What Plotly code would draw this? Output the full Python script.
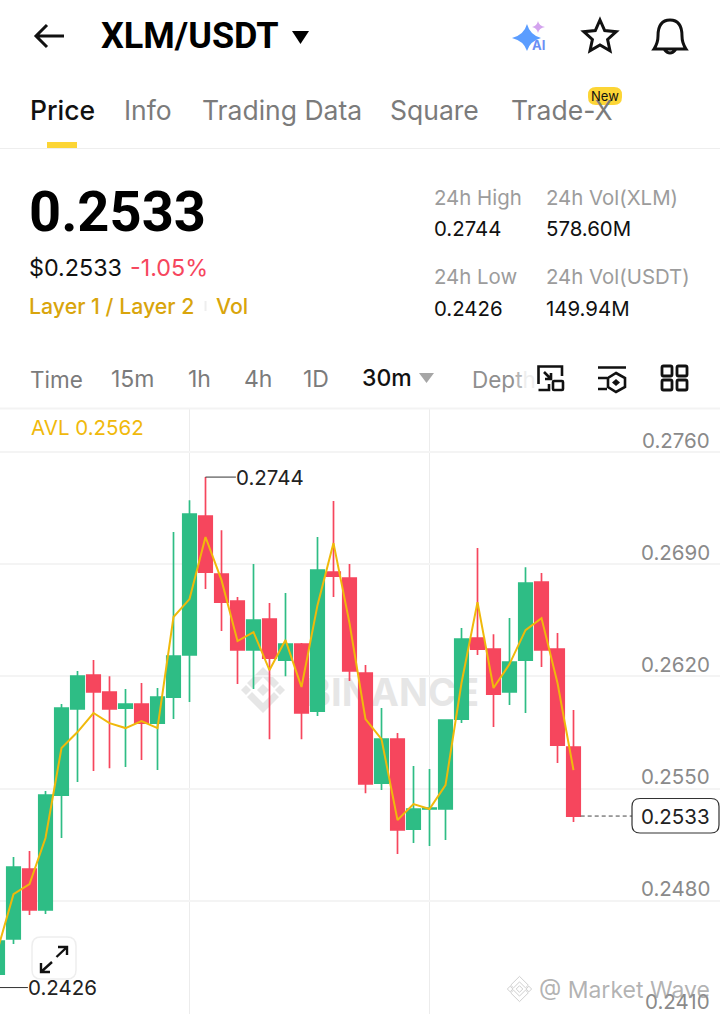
import re
import plotly.graph_objects as go

W, H = 720, 1014

# candles, oldest first, 30m
opens = [0.24343, 0.24562, 0.24998, 0.24743, 0.25460, 0.25997, 0.26209, 0.26103, 0.26003, 0.26028,
         0.25909, 0.26071, 0.26334, 0.27201, 0.26839, 0.26670, 0.26365, 0.26558, 0.26302, 0.26402,
         0.25984, 0.26851, 0.26814, 0.26221, 0.25535, 0.25809, 0.25248, 0.25373, 0.25373, 0.25934,
         0.26440, 0.26371, 0.26103, 0.26302, 0.26789, 0.26371, 0.25759]
highs = [0.24649, 0.25073, 0.25111, 0.25485, 0.26028, 0.26234, 0.26302, 0.26202, 0.26121, 0.26159,
         0.26128, 0.27101, 0.27300, 0.27444, 0.27113, 0.26695, 0.26901, 0.26658, 0.26720, 0.26408,
         0.27070, 0.27294, 0.26901, 0.26271, 0.26003, 0.25847, 0.25641, 0.25622, 0.25928, 0.26502,
         0.27001, 0.26464, 0.26564, 0.26882, 0.26845, 0.26471, 0.25990]
lows = [0.24259, 0.24530, 0.24711, 0.24718, 0.25192, 0.25541, 0.25610, 0.25628, 0.25635, 0.25678,
        0.25616, 0.25934, 0.26040, 0.26745, 0.26483, 0.26153, 0.26121, 0.25809, 0.26202, 0.25809,
        0.25953, 0.26695, 0.26171, 0.25472, 0.25491, 0.25092, 0.25161, 0.25142, 0.25179, 0.25909,
        0.26334, 0.25884, 0.26022, 0.25972, 0.26259, 0.25660, 0.25292]
closes = [0.24549, 0.25011, 0.24743, 0.25460, 0.26003, 0.26202, 0.26103, 0.25997, 0.26028, 0.25909,
          0.26071, 0.26327, 0.27213, 0.26851, 0.26664, 0.26365, 0.26552, 0.26315, 0.26402, 0.25972,
          0.26864, 0.26826, 0.26234, 0.25529, 0.25809, 0.25242, 0.25373, 0.25379, 0.25928, 0.26433,
          0.26371, 0.26090, 0.26290, 0.26783, 0.26365, 0.25772, 0.25329]
avl = [0.24493, 0.24842, 0.24905, 0.25192, 0.25753, 0.25853, 0.25972, 0.25909, 0.25878, 0.25922,
       0.25878, 0.26571, 0.26683, 0.27070, 0.26801, 0.26421, 0.26477, 0.26240, 0.26427, 0.26134,
       0.26645, 0.27032, 0.26533, 0.25934, 0.25809, 0.25304, 0.25404, 0.25373, 0.25522, 0.26159,
       0.26664, 0.26128, 0.26277, 0.26489, 0.26564, 0.26159, 0.25616]
price_ticks = [0.2760, 0.2690, 0.2620, 0.2550, 0.2480, 0.2410]
time_ticks = [12, 27]

GREEN = "#2EBD85"
RED = "#F6465D"
YELLOW = "#F0B90B"
GRAY = "#7b7b7b"
LIGHT = "#9c9c9c"
INK = "#111111"
FONT = "Inter"
NUM = "Inter"

idx = list(range(len(opens)))
hi_i = highs.index(max(highs))
lo_i = lows.index(min(lows))


def pth(s):
    # svg path written in page pixels -> paper coordinates
    nums = iter(re.findall(r"[A-Za-z]|-?[\d.]+", s))
    out, is_x = [], True
    for t in nums:
        if t.isalpha():
            out.append(t)
            is_x = True
        else:
            v = float(t)
            out.append(f"{v / W:.5f}" if is_x else f"{1 - v / H:.5f}")
            is_x = not is_x
    return " ".join(out)


shapes = []


def draw(s, color=None, fill=None, width=3, layer="above"):
    shapes.append(dict(type="path", path=pth(s), xref="paper", yref="paper", layer=layer,
                       line=dict(color=color or "rgba(0,0,0,0)", width=width if color else 0),
                       fillcolor=fill or "rgba(0,0,0,0)"))


def rrect(x0, y0, x1, y1, r):
    return (f"M {x0 + r} {y0} L {x1 - r} {y0} Q {x1} {y0} {x1} {y0 + r} L {x1} {y1 - r} "
            f"Q {x1} {y1} {x1 - r} {y1} L {x0 + r} {y1} Q {x0} {y1} {x0} {y1 - r} "
            f"L {x0} {y0 + r} Q {x0} {y0} {x0 + r} {y0} Z")


def logo(cx, cy, k, fill, line=None):
    # exchange diamond mark
    pieces = [
        [(0, -23), (16, -7), (11, -2), (0, -13), (-11, -2), (-16, -7)],
        [(0, 23), (16, 7), (11, 2), (0, 13), (-11, 2), (-16, 7)],
        [(0, -6), (6, 0), (0, 6), (-6, 0)],
        [(-17, -5), (-12, 0), (-17, 5), (-22, 0)],
        [(17, -5), (22, 0), (17, 5), (12, 0)],
    ]
    for p in pieces:
        s = " ".join(("M" if i == 0 else "L") + f" {cx + k * a:.1f} {cy + k * b:.1f}" for i, (a, b) in enumerate(p))
        draw(s + " Z", color=line, fill=fill, width=1, layer="below")


annotations = []


def text(x, y, s, size, color=INK, anchor="left", bold=False, family=FONT, weight=None):
    if anchor == "left":
        x -= 1.7  # annotation boxes sit a little to the right
    f = dict(family=family, size=size, color=color)
    if weight:
        f["weight"] = weight
    annotations.append(dict(x=x / W, y=1 - y / H, xref="paper", yref="paper", text=f"<b>{s}</b>" if bold else s,
                            showarrow=False, xanchor=anchor, yanchor="middle", borderpad=0, font=f))


# header
draw("M 36 36 L 64 36 M 47 25 L 36 36 L 47 47", color=INK)
text(102, 36, "XLM/USDT", 36, "#000000", bold=True, family="Roboto")
draw("M 292 31 L 309 31 L 300.5 44 Z", fill="#000000")
draw("M 527 24 Q 530 35 541 38 Q 530 41 527 51 Q 524 41 512 38 Q 524 35 527 24 Z", fill="#5B9DFF")
draw("M 538 21 Q 539 26 545 27 Q 539 28 538 33 Q 537 28 532 27 Q 537 26 538 21 Z", fill="#D3A3EE")
text(533, 45, "AI", 13, "#6C8EF5", bold=True)
draw("M 600 20 L 604.7 30.5 L 616.2 31.7 L 607.6 39.5 L 610 50.8 L 600 45 L 590 50.8 L 592.4 39.5 "
     "L 583.8 31.7 L 595.3 30.5 Z", color=INK)
draw("M 670 20 C 661 20 658 27 658 36 C 658 43 656 46 654 49 L 686 49 C 684 46 682 43 682 36 "
     "C 682 27 679 20 670 20 Z M 664 49 Q 670 57 676 49", color=INK)

# tabs
text(30.5, 110, "Price", 26.5, INK, weight=500)
text(125, 110, "Info", 26.5, GRAY)
text(203, 110, "Trading Data", 26.5, GRAY)
text(391, 110, "Square", 26.5, GRAY)
text(512, 110, "Trade-X", 26.5, GRAY)
draw(rrect(588, 87, 622, 105, 8), fill="#FCD535")
text(605, 96, "New", 13, INK, anchor="center")
draw("M 47 142 L 77 142 L 77 148 L 47 148 Z", fill="#FCD535")
draw("M 0 148.5 L 720 148.5", color="#eeeeee", width=1)

# price block
text(29.5, 212, "0.2533", 56, "#000000", bold=True, family="Roboto")
text(30, 267, "$0.2533", 23.3, INK)
text(131, 267, "-1.05%", 23.3, RED)
text(30, 306, "Layer 1 / Layer 2", 21.3, "#D9A50C", weight=500)
draw("M 205.5 301 L 205.5 311", color="#eeeeee", width=2)
text(217, 306, "Vol", 21.3, "#D9A50C", weight=500)
text(435, 197, "24h High", 20.4, LIGHT)
text(435, 229, "0.2744", 20.4, INK)
text(547, 197, "24h Vol(XLM)", 20.4, LIGHT)
text(547, 229, "578.60M", 20.4, INK)
text(435, 277, "24h Low", 20.4, LIGHT)
text(435, 308, "0.2426", 20.4, INK)
text(547, 277, "24h Vol(USDT)", 20.4, LIGHT)
text(547, 308, "149.94M", 20.4, INK)

# interval bar
text(31, 379, "Time", 22.5, GRAY)
text(112, 379, "15m", 23, GRAY)
text(189, 379, "1h", 23, GRAY)
text(245, 379, "4h", 23, GRAY)
text(304, 379, "1D", 23, GRAY)
text(363, 378, "30m", 23, INK, weight=500)
draw("M 419 373 L 434 373 L 426.5 383 Z", fill="#a6a6a6")
text(473, 379, 'Dep<span style="color:#b5b5b5">t</span><span style="color:#eeeeee">h</span>', 22.5, "#8f8f8f")
draw("M 538.5 384 L 538.5 366.5 L 562 366.5 L 562 376 M 538.5 390 L 549 390 L 549 384 M 544 372 L 551 379 "
     "M 551 373 L 551 379 L 545 379", color=INK, width=2.6)
draw(rrect(553, 381, 563, 390, 1), color=INK, width=2.6)
draw("M 598 367.5 L 626 367.5 M 598 378 L 607 378 M 598 389 L 607 389 "
     "M 616 373 L 625 378 L 625 387 L 616 392 L 608 387 L 608 378 Z", color=INK, width=2.6)
draw("M 616 379 L 620 382.5 L 616 386 L 612 382.5 Z", fill=INK)
draw(rrect(662, 366, 672, 376, 1.5), color=INK, width=2.8)
draw(rrect(677, 366, 687, 376, 1.5), color=INK, width=2.8)
draw(rrect(662, 380, 672, 390, 1.5), color=INK, width=2.8)
draw(rrect(677, 380, 687, 390, 1.5), color=INK, width=2.8)
draw("M 0 408.5 L 720 408.5", color="#f3f3f3", width=2)

# chart watermark sits under the candles
logo(263, 690, 1.0, "#e6e6e6")
shapes.append(dict(type="rect", xref="paper", yref="paper", x0=305 / W, x1=480 / W, y0=1 - 713 / H, y1=1 - 669 / H,
                   layer="below", line=dict(width=0), fillcolor="rgba(0,0,0,0)",
                   label=dict(text="<b>BINANCE</b>", textposition="middle center",
                              font=dict(family=FONT, size=38, color="#e6e6e6"))))

# leader lines and last price
x_end = 45.156
label_gap = 1.9
shapes.append(dict(type="line", xref="x", yref="y", x0=hi_i, x1=hi_i + label_gap, y0=highs[hi_i], y1=highs[hi_i],
                   line=dict(color="#333333", width=1)))
shapes.append(dict(type="line", xref="x", yref="y", x0=0.156, x1=lo_i + label_gap, y0=lows[lo_i], y1=lows[lo_i],
                   line=dict(color="#333333", width=1)))
shapes.append(dict(type="line", xref="x", yref="y", x0=idx[-1] + 0.45, x1=39.66, y0=closes[-1], y1=closes[-1],
                   line=dict(color="#444444", width=1, dash="4px,3px")))
draw(rrect(632, 798.5, 719, 833, 8), color="#333333", fill="#ffffff", width=1.2)

for i, v in [(hi_i, highs[hi_i]), (lo_i, lows[lo_i])]:
    annotations.append(dict(x=i + label_gap - 0.08, y=v, xref="x", yref="y", text=f"{v:.4f}", showarrow=False,
                            xanchor="left", yanchor="middle", borderpad=0,
                            font=dict(family=NUM, size=20.5, color="#222222")))
annotations.append(dict(x=711 / W, y=closes[-1], xref="paper", yref="y", text="0.2533", showarrow=False,
                        xanchor="right", yanchor="middle", borderpad=0,
                        font=dict(family=NUM, size=20.5, color="#222222")))
for t in price_ticks:
    annotations.append(dict(x=711 / W, y=t, xref="paper", yref="y", text=f"{t:.4f}", showarrow=False,
                            xanchor="right", yanchor="middle", yshift=12, borderpad=0,
                            font=dict(family=NUM, size=20.5, color="#8a8a8a")))
text(32, 428, "AVL 0.2562", 20.5, YELLOW)

# expand button
draw(rrect(32, 937, 76, 979, 9), color="#eeeeee", fill="#ffffff", width=1.5)
draw("M 56.5 957 L 67 947 M 58 947 L 67 947 L 67 955 M 52 962 L 41 972 M 41 963 L 41 972 L 50 972",
     color=INK, width=2.4)

# bottom right credit
logo(519.5, 989, 0.55, "#ffffff", line="#d0d0d0")
text(540, 990, "@ Market Wave", 23, "rgba(150,150,150,0.72)")

fig = go.Figure()
fig.add_trace(go.Candlestick(
    x=idx, open=opens, high=highs, low=lows, close=closes, whiskerwidth=0,
    increasing=dict(line=dict(color=GREEN, width=1.7), fillcolor=GREEN),
    decreasing=dict(line=dict(color=RED, width=1.7), fillcolor=RED),
    showlegend=False,
))
fig.add_trace(go.Scatter(x=idx, y=avl, mode="lines", line=dict(color=YELLOW, width=2), showlegend=False))

fig.update_layout(
    width=W,
    height=H,
    autosize=False,
    margin=dict(l=0, r=0, t=0, b=0),
    paper_bgcolor="#ffffff",
    plot_bgcolor="rgba(0,0,0,0)",
    boxgap=0.16,
    boxgroupgap=0,
    shapes=shapes,
    annotations=annotations,
    xaxis=dict(range=[0.156, x_end], domain=[0, 1], tickvals=time_ticks, showticklabels=False, ticks="",
               showgrid=True, gridcolor="#ececec", gridwidth=1, zeroline=False, showline=False,
               rangeslider=dict(visible=False)),
    yaxis=dict(range=[0.24094, 0.27875], domain=[0, 1 - 408 / H], tickvals=price_ticks, showticklabels=False,
               ticks="", showgrid=True, gridcolor="#f4f4f4", gridwidth=1.5, zeroline=False, showline=False),
)

# no page margin, the figure fills the window
fig.write_html("out.html", post_script="document.body.style.margin='0';", config={"displayModeBar": False})
